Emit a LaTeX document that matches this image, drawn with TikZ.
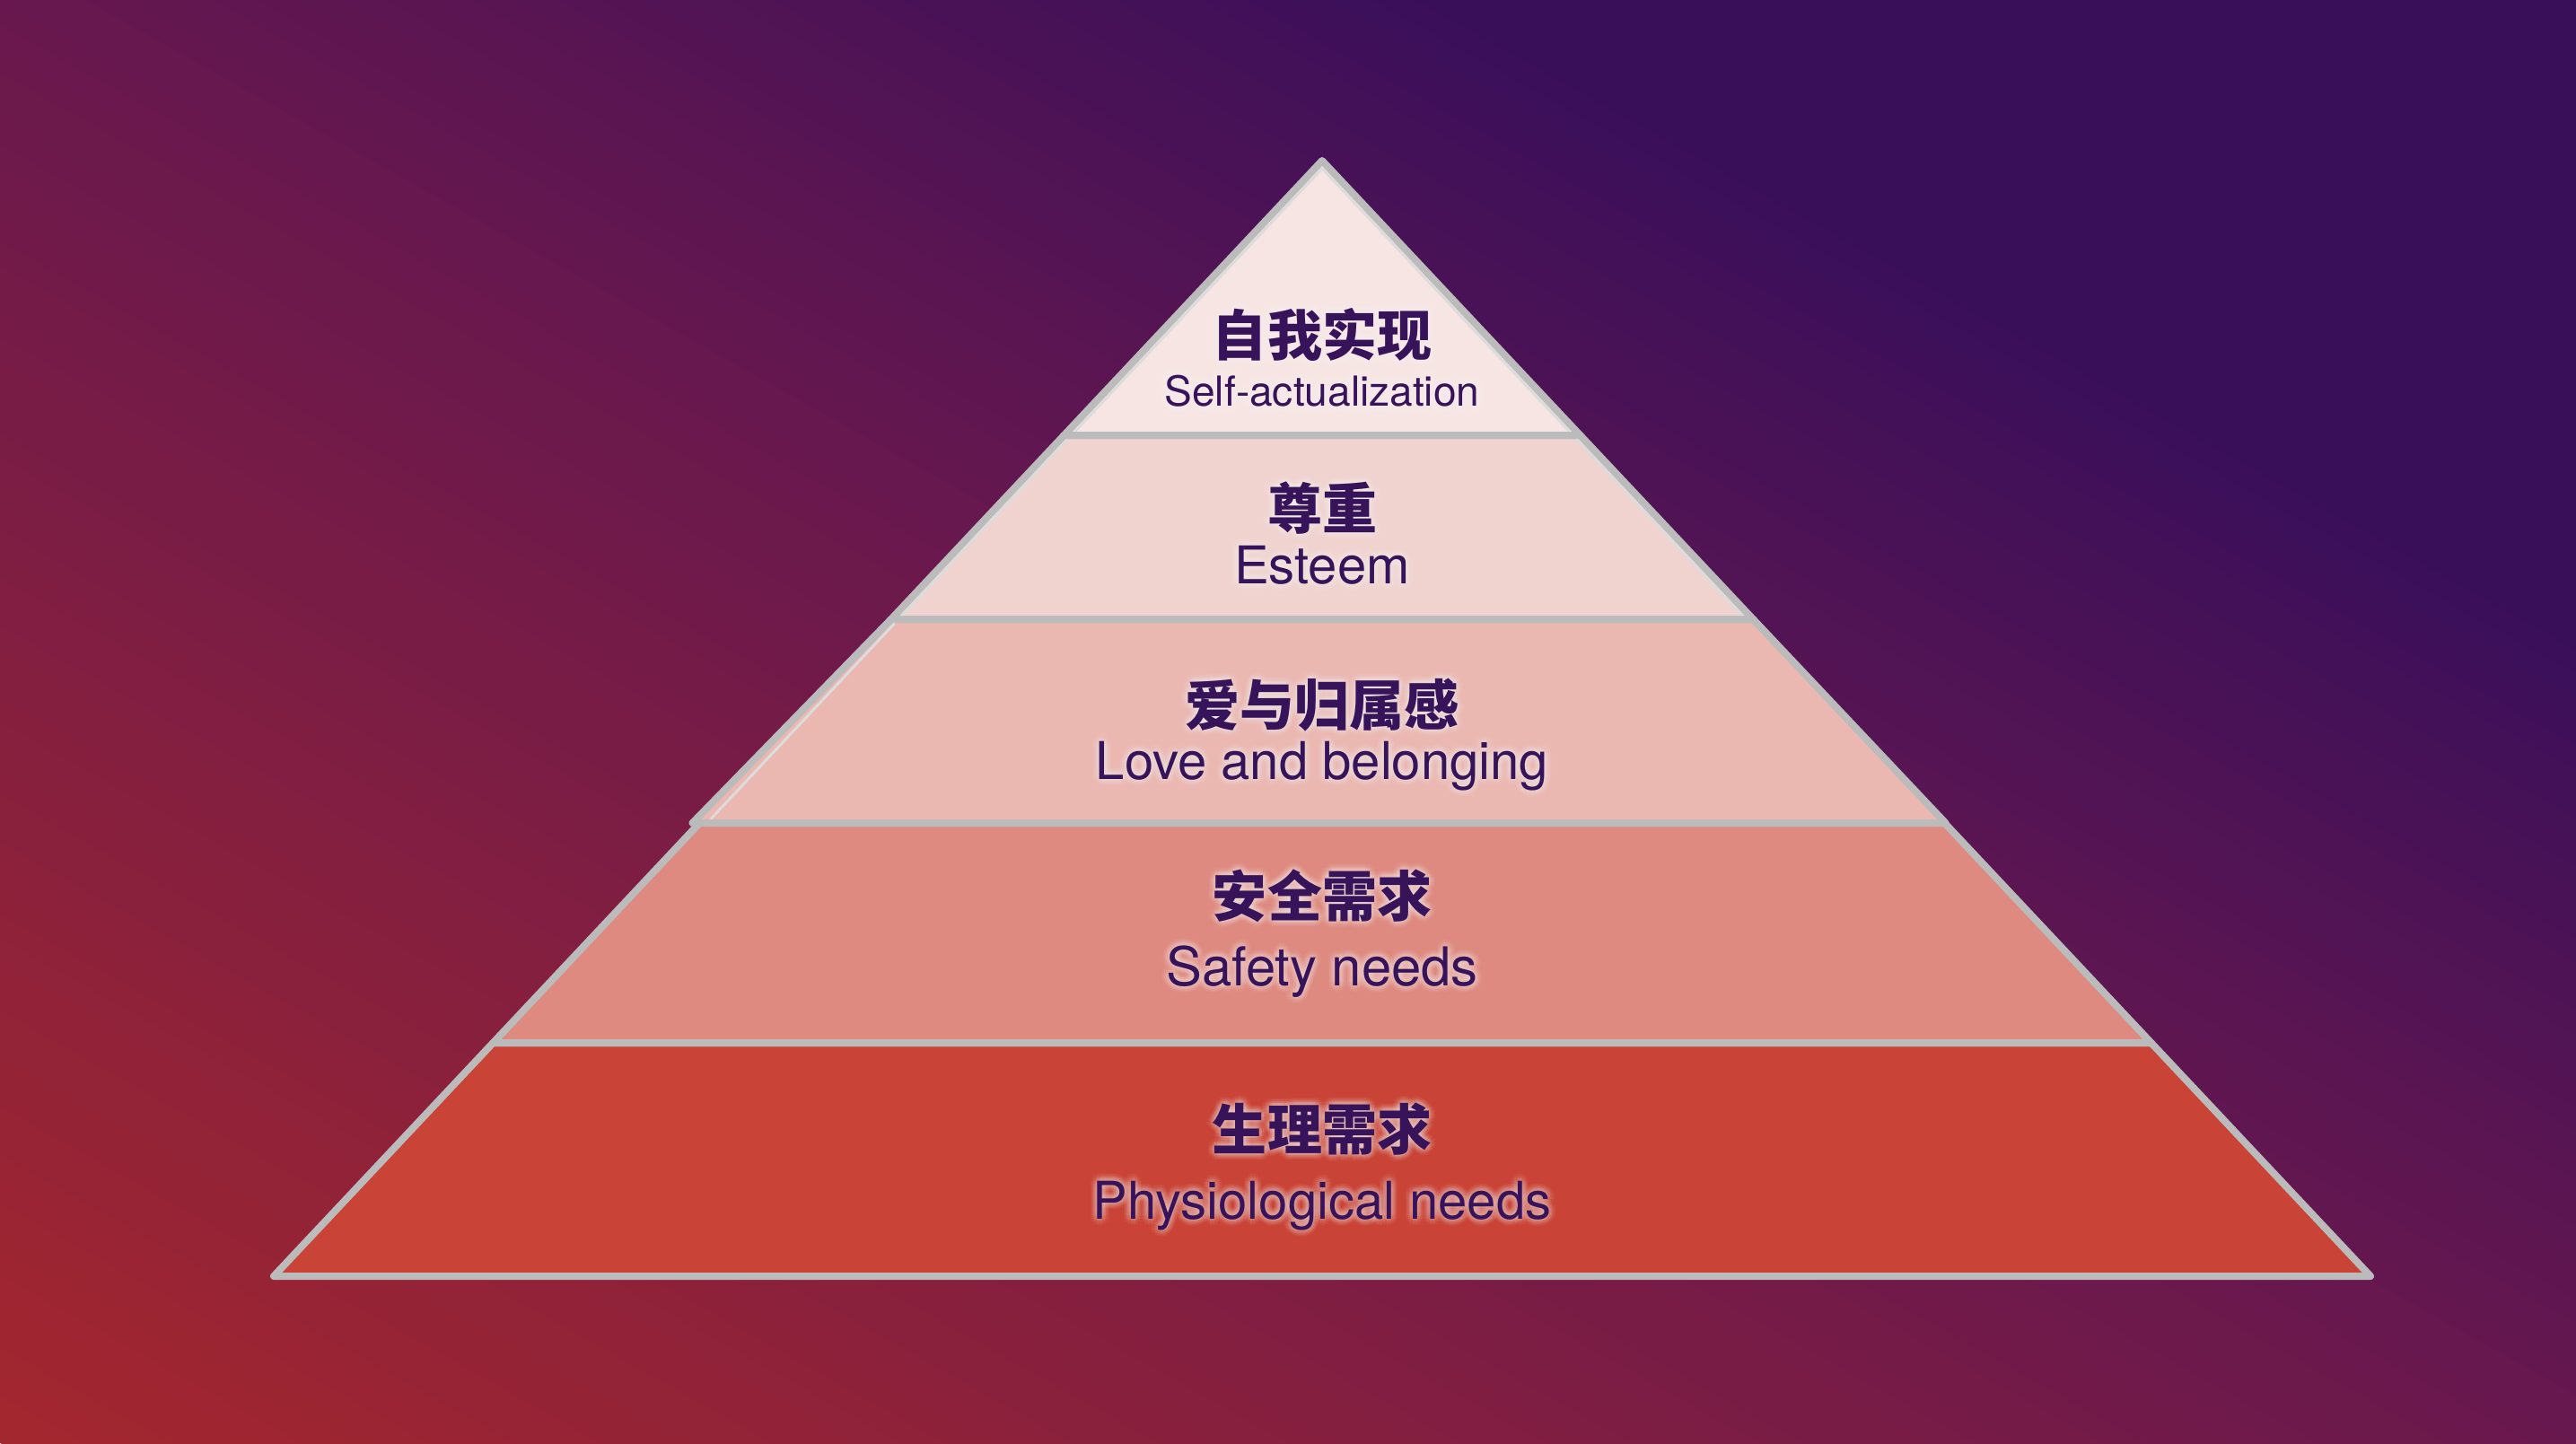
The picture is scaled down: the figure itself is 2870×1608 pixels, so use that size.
\documentclass[tikz,border=0pt]{standalone}
\usepackage{fontspec}
\setmainfont{TeX Gyre Heros}
\newfontfamily\cjk{Noto Sans CJK SC}
\usetikzlibrary{calc}
\definecolor{bgRed}{HTML}{A4272E}
\definecolor{bgMid}{HTML}{68184E}
\definecolor{bgPurple}{HTML}{3A0F5A}
\definecolor{fillSelf}{HTML}{F6E5E3}
\definecolor{fillEsteem}{HTML}{F0D3CF}
\definecolor{fillLove}{HTML}{EBB7B1}
\definecolor{fillSafety}{HTML}{DE8A80}
\definecolor{fillPhysio}{HTML}{C94436}
\definecolor{edgegray}{HTML}{BBBBBB}
\definecolor{hlgray}{HTML}{DCDCDC}
\definecolor{ink}{HTML}{37135A}
\tikzset{
  layer/.style={draw=edgegray, line width=0.08cm, line join=round, line cap=round},
  hl/.style={draw=hlgray, line width=0.03cm, line cap=round},
  zh/.style={font=\cjk\bfseries\fontsize{17.35}{20}\selectfont, text=ink, anchor=base, inner sep=0pt},
  en/.style={font=\fontsize{16.5}{20}\selectfont, text=ink, anchor=base, inner sep=0pt},
  ensf/.style={font=\fontsize{17}{20}\selectfont, text=ink, anchor=base, inner sep=0pt},
  ensmall/.style={font=\fontsize{13.1}{16}\selectfont, text=ink, anchor=base, inner sep=0pt},
  glowst/.style={text=white, text opacity=0.045},
}
\newcommand\glowlabel[4]{%
  \foreach \ang in {0,30,...,330}{
    \foreach \rad in {2.5,5,7.5}{
      \node[#2, glowst] (#1-\ang-\rad) at ($(#3)+(\ang:\rad)$) {#4};
    }
  }
  \node[#2] (#1) at (#3) {#4};
}
\begin{document}
\begin{tikzpicture}[x=0.01cm, y=-0.01cm]
\useasboundingbox (0,0) rectangle (2870,1608);
% background: linear gradient, iso-lines parallel to the top-left/bottom-right diagonal
\begin{scope}
\clip (-10,-10) rectangle (2880,1618);
\foreach \k in {0,...,119}{
  \pgfmathsetmacro\tpos{(\k+0.5)/120}
  \pgfmathsetmacro\mixA{min(100,max(0,\tpos/0.5*100))}
  \pgfmathsetmacro\mixB{min(100,max(0,(\tpos-0.5)/0.276*100))}
  \pgfmathsetmacro\sLo{\k/60}
  \pgfmathsetmacro\sHi{(\k+1)/60+0.004}
  \colorlet{tmpc}{bgMid!\mixA!bgRed}
  \colorlet{stripc}{bgPurple!\mixB!tmpc}
  \fill[stripc] ({2870*(\sLo-1)-36},-20) -- ({2870*(\sHi-1)-36},-20) -- ({2870*\sHi+36},1628) -- ({2870*\sLo+36},1628) -- cycle;
}
\end{scope}

% layers, bottom to top
\filldraw[layer, fill=fillPhysio] (549.3,1162) -- (2396.7,1162) -- (2641,1422) -- (305,1422) -- cycle;
\filldraw[layer, fill=fillSafety] (779.5,917) -- (2166.5,917) -- (2396.7,1162) -- (549.3,1162) -- cycle;
\filldraw[layer, fill=fillLove] (992.8,690) -- (1953.2,690) -- (2167.5,917) -- (771.5,917) -- cycle;
\filldraw[layer, fill=fillEsteem] (1185.5,485) -- (1760.5,485) -- (1953.2,690) -- (992.8,690) -- cycle;
\filldraw[layer, fill=fillSelf] (1473,179) -- (1760.5,485) -- (1185.5,485) -- cycle;

% inner highlights
\draw[hl] (1472.7,188) -- (1198.3,480);
\draw[hl] (1473.3,188) -- (1747.7,480);
\draw[hl] (1189,490) -- (1005.7,685);
\draw[hl] (1757,490) -- (1940.3,685);
\draw[hl] (996.3,695) -- (792.4,912);

% label positions
\coordinate (pSelfZh) at (1473,396);
\coordinate (pSelfEn) at (1473,452);
\coordinate (pEstZh) at (1473,589);
\coordinate (pEstEn) at (1473,650);
\coordinate (pLoveZh) at (1473,808);
\coordinate (pLoveEn) at (1473,868);
\coordinate (pSafeZh) at (1473,1021);
\coordinate (pSafeEn) at (1473,1098);
\coordinate (pPhysZh) at (1473,1281);
\coordinate (pPhysEn) at (1473,1358);

\glowlabel{selfzh}{zh}{pSelfZh}{自我实现}
\glowlabel{selfen}{ensmall}{pSelfEn}{Self-actualization}
\glowlabel{estzh}{zh}{pEstZh}{尊重}
\glowlabel{esten}{en}{pEstEn}{Esteem}
\glowlabel{lovezh}{zh}{pLoveZh}{爱与归属感}
\glowlabel{loveen}{en}{pLoveEn}{Love and belonging}
\glowlabel{safezh}{zh}{pSafeZh}{安全需求}
\glowlabel{safeen}{ensf}{pSafeEn}{Safety needs}
\glowlabel{physzh}{zh}{pPhysZh}{生理需求}
\glowlabel{physen}{en}{pPhysEn}{Physiological needs}
\end{tikzpicture}
\end{document}
